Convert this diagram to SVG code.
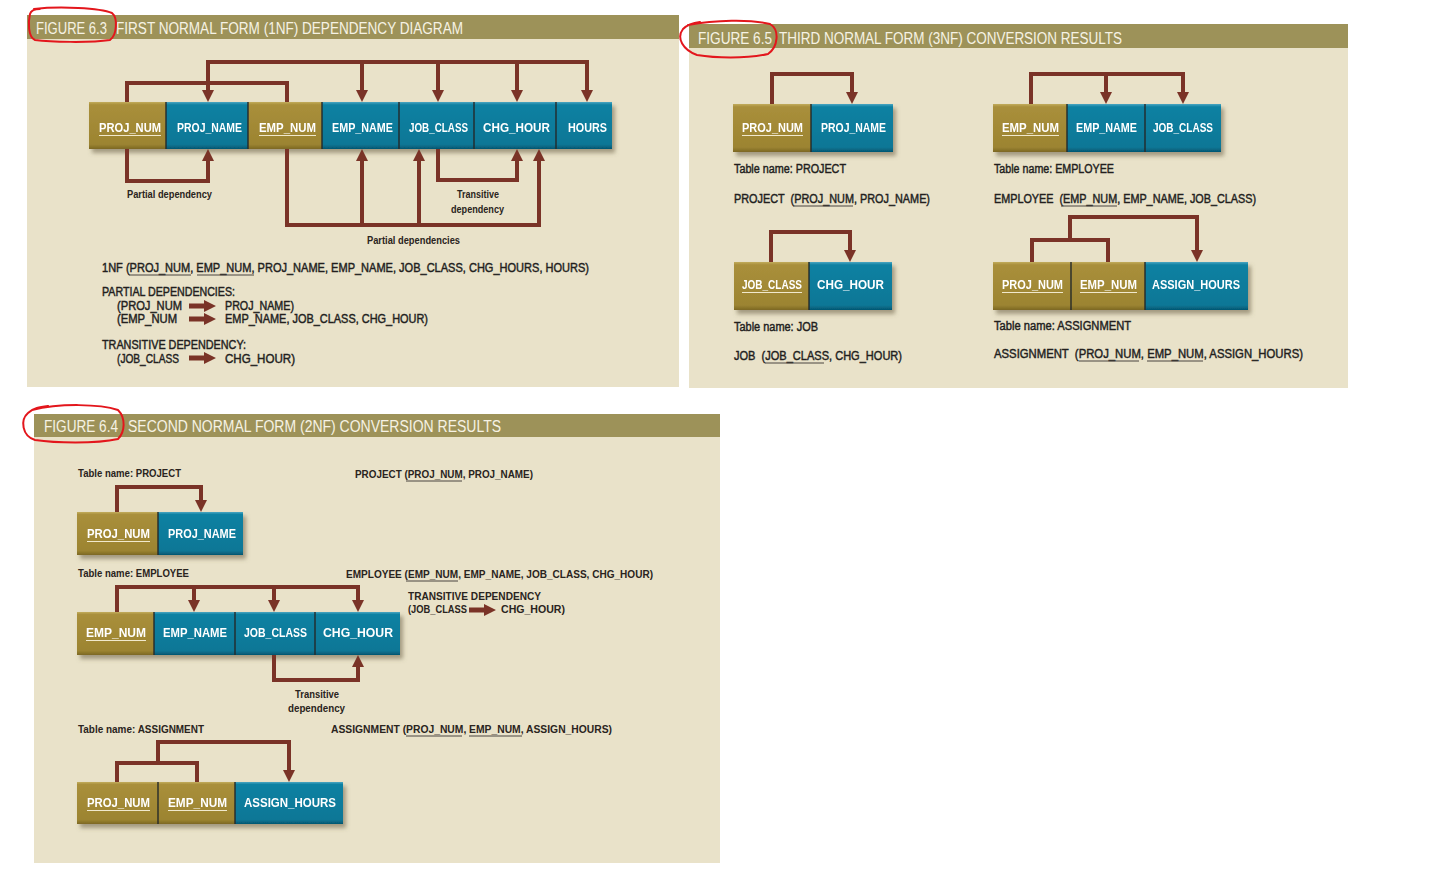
<svg xmlns="http://www.w3.org/2000/svg" xmlns:xlink="http://www.w3.org/1999/xlink" width="1454" height="889" viewBox="0 0 1454 889">
<style>
.panel{fill:#E9E2C9}
.hdr{fill:#9D9259}
.ht{font-family:"Liberation Sans",Arial,sans-serif;font-size:16px;fill:#F6F2E4}
.gold{fill:url(#gGold)}
.blue{fill:url(#gBlue)}
.dv{stroke:#262a2a;stroke-width:1.4}
.ct{font-family:"Liberation Sans",Arial,sans-serif;font-size:13px;font-weight:bold;fill:#FFFFFF}
.cs{font-size:12.5px}
.cu{stroke:#F1E9CC;stroke-width:1}
.conn{fill:none;stroke:#7A3327;stroke-width:4;stroke-linejoin:miter;stroke-linecap:butt}
.tx{font-family:"Liberation Sans",Arial,sans-serif;font-size:12.5px;fill:#231F1E;stroke:#231F1E;stroke-width:0.45}
.lb{font-family:"Liberation Sans",Arial,sans-serif;font-size:11px;font-weight:bold;fill:#2A2420}
.ul{stroke:#4A4540;stroke-width:1}
.fat{fill:#7A3327}
.red{fill:none;stroke:#E3161C;stroke-width:2;stroke-linecap:round}
</style>
<defs>
<linearGradient id="gGold" x1="0" y1="0" x2="0" y2="1">
<stop offset="0" stop-color="#C2AC5C"/>
<stop offset="0.06" stop-color="#A98F3B"/>
<stop offset="0.9" stop-color="#9C8431"/>
<stop offset="1" stop-color="#7C6824"/>
</linearGradient>
<linearGradient id="gBlue" x1="0" y1="0" x2="0" y2="1">
<stop offset="0" stop-color="#4AA6C2"/>
<stop offset="0.06" stop-color="#0F81A2"/>
<stop offset="0.9" stop-color="#0A7796"/>
<stop offset="1" stop-color="#055670"/>
</linearGradient>
<filter id="sh" x="-10%" y="-20%" width="120%" height="150%">
<feDropShadow dx="3" dy="4" stdDeviation="2" flood-color="#6B5F45" flood-opacity="0.55"/>
</filter>
<marker id="ah" markerUnits="userSpaceOnUse" markerWidth="12" markerHeight="12" viewBox="0 0 12 12" refX="3" refY="6" orient="auto-start-reverse">
<path d="M0,0 L12,6 L0,12 z" fill="#7A3327"/>
</marker>
<path id="fatArrow" class="fat" d="M0,-2.5 H15 V-6 L27,0 L15,6 V2.5 H0 Z"/>
</defs>

<rect x="0" y="0" width="1454" height="889" fill="#FFFFFF"/>

<!-- ================= FIGURE 6.3 ================= -->
<g id="fig63">
<rect class="panel" x="27" y="15" width="652" height="372"/>
<rect class="hdr" x="27" y="15" width="652" height="24"/>
<text class="ht" x="36" y="34" textLength="71" lengthAdjust="spacingAndGlyphs">FIGURE 6.3</text>
<text class="ht" x="116" y="34" textLength="347" lengthAdjust="spacingAndGlyphs">FIRST NORMAL FORM (1NF) DEPENDENCY DIAGRAM</text>
<path class="red" d="M34,9 C60,6 100,8 112,13 C118,18 117,35 110,40 C90,43 50,42 35,40 C28,37 28,22 30,14 C31,10 34,9 40,9"/>

<g id="t63" filter="url(#sh)">
<g id="n63-proj_num"><rect class="gold" x="89" y="102" width="77" height="47"/><text class="ct" x="99" y="132" textLength="62" lengthAdjust="spacingAndGlyphs">PROJ_NUM</text><line class="cu" x1="99" y1="135.5" x2="161" y2="135.5"/></g>
<g id="n63-proj_name"><rect class="blue" x="166" y="102" width="82" height="47"/><text class="ct" x="177" y="132" textLength="65" lengthAdjust="spacingAndGlyphs">PROJ_NAME</text></g>
<g id="n63-emp_num"><rect class="gold" x="248" y="102" width="74" height="47"/><text class="ct" x="259" y="132" textLength="57" lengthAdjust="spacingAndGlyphs">EMP_NUM</text><line class="cu" x1="259" y1="135.5" x2="316" y2="135.5"/></g>
<g id="n63-emp_name"><rect class="blue" x="322" y="102" width="77" height="47"/><text class="ct" x="332" y="132" textLength="61" lengthAdjust="spacingAndGlyphs">EMP_NAME</text></g>
<g id="n63-job_class"><rect class="blue" x="399" y="102" width="75" height="47"/><text class="ct" x="409" y="132" textLength="59" lengthAdjust="spacingAndGlyphs">JOB_CLASS</text></g>
<g id="n63-chg_hour"><rect class="blue" x="474" y="102" width="82" height="47"/><text class="ct" x="483" y="132" textLength="67" lengthAdjust="spacingAndGlyphs">CHG_HOUR</text></g>
<g id="n63-hours"><rect class="blue" x="556" y="102" width="56" height="47"/><text class="ct" x="568" y="132" textLength="39" lengthAdjust="spacingAndGlyphs">HOURS</text></g>
<line class="dv" x1="166" y1="102" x2="166" y2="149"/><line class="dv" x1="248" y1="102" x2="248" y2="149"/><line class="dv" x1="322" y1="102" x2="322" y2="149"/><line class="dv" x1="399" y1="102" x2="399" y2="149"/><line class="dv" x1="474" y1="102" x2="474" y2="149"/><line class="dv" x1="556" y1="102" x2="556" y2="149"/>
</g>

<g id="l63">
<text class="lb" x="127" y="198" textLength="85" lengthAdjust="spacingAndGlyphs">Partial dependency</text>
<text class="lb" x="457" y="198" textLength="42" lengthAdjust="spacingAndGlyphs">Transitive</text>
<text class="lb" x="451" y="213" textLength="53" lengthAdjust="spacingAndGlyphs">dependency</text>
<text class="lb" x="367" y="244" textLength="93" lengthAdjust="spacingAndGlyphs">Partial dependencies</text>

<text class="tx" x="102" y="272" textLength="487" lengthAdjust="spacingAndGlyphs">1NF (PROJ_NUM, EMP_NUM, PROJ_NAME, EMP_NAME, JOB_CLASS, CHG_HOURS, HOURS)</text>
<line class="ul" x1="129" y1="275" x2="191" y2="275"/><line class="ul" x1="197" y1="275" x2="254" y2="275"/>
<text class="tx" x="102" y="296" textLength="133" lengthAdjust="spacingAndGlyphs">PARTIAL DEPENDENCIES:</text>
<text class="tx" x="117" y="310" textLength="65" lengthAdjust="spacingAndGlyphs">(PROJ_NUM</text>
<use xlink:href="#fatArrow" x="189" y="306"/>
<text class="tx" x="225" y="310" textLength="69" lengthAdjust="spacingAndGlyphs">PROJ_NAME)</text>
<text class="tx" x="117" y="323" textLength="60" lengthAdjust="spacingAndGlyphs">(EMP_NUM</text>
<use xlink:href="#fatArrow" x="189" y="319"/>
<text class="tx" x="225" y="323" textLength="203" lengthAdjust="spacingAndGlyphs">EMP_NAME, JOB_CLASS, CHG_HOUR)</text>
<text class="tx" x="102" y="349" textLength="144" lengthAdjust="spacingAndGlyphs">TRANSITIVE DEPENDENCY:</text>
<text class="tx" x="117" y="363" textLength="62" lengthAdjust="spacingAndGlyphs">(JOB_CLASS</text>
<use xlink:href="#fatArrow" x="189" y="358"/>
<text class="tx" x="225" y="363" textLength="70" lengthAdjust="spacingAndGlyphs">CHG_HOUR)</text>
</g>
</g>

<!-- ================= FIGURE 6.5 ================= -->
<g id="fig65">
<rect class="panel" x="689" y="24" width="659" height="364"/>
<rect class="hdr" x="689" y="24" width="659" height="24"/>
<text class="ht" x="698" y="44" textLength="74" lengthAdjust="spacingAndGlyphs">FIGURE 6.5</text>
<text class="ht" x="779" y="44" textLength="343" lengthAdjust="spacingAndGlyphs">THIRD NORMAL FORM (3NF) CONVERSION RESULTS</text>
<path class="red" d="M688,25 C715,20 750,19 770,24 C780,30 778,47 768,54 C745,59 715,58 697,55 C683,50 676,38 683,29 C687,25 692,23 700,22"/>

<g id="t65-project" filter="url(#sh)">
<g id="n65-p-proj_num"><rect class="gold" x="733" y="104" width="78" height="48"/><text class="ct" x="742" y="132" textLength="61" lengthAdjust="spacingAndGlyphs">PROJ_NUM</text><line class="cu" x1="742" y1="135.5" x2="803" y2="135.5"/></g>
<g id="n65-p-proj_name"><rect class="blue" x="811" y="104" width="82" height="48"/><text class="ct" x="821" y="132" textLength="65" lengthAdjust="spacingAndGlyphs">PROJ_NAME</text></g>
<line class="dv" x1="811" y1="104" x2="811" y2="152"/>
</g>
<g id="t65-employee" filter="url(#sh)">
<g id="n65-e-emp_num"><rect class="gold" x="993" y="104" width="74" height="48"/><text class="ct" x="1002" y="132" textLength="57" lengthAdjust="spacingAndGlyphs">EMP_NUM</text><line class="cu" x1="1002" y1="135.5" x2="1059" y2="135.5"/></g>
<g id="n65-e-emp_name"><rect class="blue" x="1067" y="104" width="78" height="48"/><text class="ct" x="1076" y="132" textLength="61" lengthAdjust="spacingAndGlyphs">EMP_NAME</text></g>
<g id="n65-e-job_class"><rect class="blue" x="1145" y="104" width="76" height="48"/><text class="ct" x="1153" y="132" textLength="60" lengthAdjust="spacingAndGlyphs">JOB_CLASS</text></g>
<line class="dv" x1="1067" y1="104" x2="1067" y2="152"/><line class="dv" x1="1145" y1="104" x2="1145" y2="152"/>
</g>
<g id="t65-job" filter="url(#sh)">
<g id="n65-j-job_class"><rect class="gold" x="734" y="262" width="75" height="48"/><text class="ct" x="742" y="289" textLength="60" lengthAdjust="spacingAndGlyphs">JOB_CLASS</text><line class="cu" x1="742" y1="292.5" x2="802" y2="292.5"/></g>
<g id="n65-j-chg_hour"><rect class="blue" x="809" y="262" width="83" height="48"/><text class="ct" x="817" y="289" textLength="67" lengthAdjust="spacingAndGlyphs">CHG_HOUR</text></g>
<line class="dv" x1="809" y1="262" x2="809" y2="310"/>
</g>
<g id="t65-assignment" filter="url(#sh)">
<g id="n65-a-proj_num"><rect class="gold" x="993" y="262" width="78" height="48"/><text class="ct" x="1002" y="289" textLength="61" lengthAdjust="spacingAndGlyphs">PROJ_NUM</text><line class="cu" x1="1002" y1="292.5" x2="1063" y2="292.5"/></g>
<g id="n65-a-emp_num"><rect class="gold" x="1071" y="262" width="74" height="48"/><text class="ct" x="1080" y="289" textLength="57" lengthAdjust="spacingAndGlyphs">EMP_NUM</text><line class="cu" x1="1080" y1="292.5" x2="1137" y2="292.5"/></g>
<g id="n65-a-assign_hours"><rect class="blue" x="1145" y="262" width="103" height="48"/><text class="ct" x="1152" y="289" textLength="88" lengthAdjust="spacingAndGlyphs">ASSIGN_HOURS</text></g>
<line class="dv" x1="1071" y1="262" x2="1071" y2="310"/><line class="dv" x1="1145" y1="262" x2="1145" y2="310"/>
</g>

<g id="l65">
<text class="tx" x="734" y="173" textLength="112" lengthAdjust="spacingAndGlyphs">Table name: PROJECT</text>
<text class="tx" x="734" y="203" textLength="196" lengthAdjust="spacingAndGlyphs" xml:space="preserve">PROJECT  (PROJ_NUM, PROJ_NAME)</text>
<line class="ul" x1="793" y1="206" x2="853" y2="206"/>
<text class="tx" x="994" y="173" textLength="120" lengthAdjust="spacingAndGlyphs">Table name: EMPLOYEE</text>
<text class="tx" x="994" y="203" textLength="262" lengthAdjust="spacingAndGlyphs" xml:space="preserve">EMPLOYEE  (EMP_NUM, EMP_NAME, JOB_CLASS)</text>
<line class="ul" x1="1061" y1="206" x2="1117" y2="206"/>
<text class="tx" x="734" y="331" textLength="84" lengthAdjust="spacingAndGlyphs">Table name: JOB</text>
<text class="tx" x="734" y="360" textLength="168" lengthAdjust="spacingAndGlyphs" xml:space="preserve">JOB  (JOB_CLASS, CHG_HOUR)</text>
<line class="ul" x1="765" y1="363" x2="824" y2="363"/>
<text class="tx" x="994" y="330" textLength="137" lengthAdjust="spacingAndGlyphs">Table name: ASSIGNMENT</text>
<text class="tx" x="994" y="358" textLength="309" lengthAdjust="spacingAndGlyphs" xml:space="preserve">ASSIGNMENT  (PROJ_NUM, EMP_NUM, ASSIGN_HOURS)</text>
<line class="ul" x1="1079" y1="361" x2="1139" y2="361"/><line class="ul" x1="1147" y1="361" x2="1203" y2="361"/>
</g>
</g>

<!-- ================= FIGURE 6.4 ================= -->
<g id="fig64">
<rect class="panel" x="34" y="414" width="686" height="449"/>
<rect class="hdr" x="34" y="414" width="686" height="23"/>
<text class="ht" x="44" y="432" textLength="74" lengthAdjust="spacingAndGlyphs">FIGURE 6.4</text>
<text class="ht" x="128" y="432" textLength="373" lengthAdjust="spacingAndGlyphs">SECOND NORMAL FORM (2NF) CONVERSION RESULTS</text>
<path class="red" d="M32,410 C60,403 100,404 118,410 C126,418 125,432 118,439 C95,444 55,443 35,440 C22,436 20,420 28,413 C33,408 40,407 48,406"/>

<g id="t64-project" filter="url(#sh)">
<g id="n64-p-proj_num"><rect class="gold" x="77" y="512" width="81" height="43"/><text class="ct cs" x="87" y="538" textLength="63" lengthAdjust="spacingAndGlyphs">PROJ_NUM</text><line class="cu" x1="87" y1="541.5" x2="150" y2="541.5"/></g>
<g id="n64-p-proj_name"><rect class="blue" x="158" y="512" width="85" height="43"/><text class="ct cs" x="168" y="538" textLength="68" lengthAdjust="spacingAndGlyphs">PROJ_NAME</text></g>
<line class="dv" x1="158" y1="512" x2="158" y2="555"/>
</g>
<g id="t64-employee" filter="url(#sh)">
<g id="n64-e-emp_num"><rect class="gold" x="77" y="612" width="77" height="43"/><text class="ct cs" x="86" y="637" textLength="60" lengthAdjust="spacingAndGlyphs">EMP_NUM</text><line class="cu" x1="86" y1="640.5" x2="146" y2="640.5"/></g>
<g id="n64-e-emp_name"><rect class="blue" x="154" y="612" width="81" height="43"/><text class="ct cs" x="163" y="637" textLength="64" lengthAdjust="spacingAndGlyphs">EMP_NAME</text></g>
<g id="n64-e-job_class"><rect class="blue" x="235" y="612" width="80" height="43"/><text class="ct cs" x="244" y="637" textLength="63" lengthAdjust="spacingAndGlyphs">JOB_CLASS</text></g>
<g id="n64-e-chg_hour"><rect class="blue" x="315" y="612" width="85" height="43"/><text class="ct cs" x="323" y="637" textLength="70" lengthAdjust="spacingAndGlyphs">CHG_HOUR</text></g>
<line class="dv" x1="154" y1="612" x2="154" y2="655"/><line class="dv" x1="235" y1="612" x2="235" y2="655"/><line class="dv" x1="315" y1="612" x2="315" y2="655"/>
</g>
<g id="t64-assignment" filter="url(#sh)">
<g id="n64-a-proj_num"><rect class="gold" x="77" y="782" width="81" height="42"/><text class="ct cs" x="87" y="807" textLength="63" lengthAdjust="spacingAndGlyphs">PROJ_NUM</text><line class="cu" x1="87" y1="810.5" x2="150" y2="810.5"/></g>
<g id="n64-a-emp_num"><rect class="gold" x="158" y="782" width="77" height="42"/><text class="ct cs" x="168" y="807" textLength="59" lengthAdjust="spacingAndGlyphs">EMP_NUM</text><line class="cu" x1="168" y1="810.5" x2="227" y2="810.5"/></g>
<g id="n64-a-assign_hours"><rect class="blue" x="235" y="782" width="108" height="42"/><text class="ct cs" x="244" y="807" textLength="92" lengthAdjust="spacingAndGlyphs">ASSIGN_HOURS</text></g>
<line class="dv" x1="158" y1="782" x2="158" y2="824"/><line class="dv" x1="235" y1="782" x2="235" y2="824"/>
</g>

<g id="l64">
<text class="lb" x="78" y="477" textLength="103" lengthAdjust="spacingAndGlyphs">Table name: PROJECT</text>
<text class="lb" x="355" y="478" textLength="178" lengthAdjust="spacingAndGlyphs">PROJECT (PROJ_NUM, PROJ_NAME)</text>
<line class="ul" x1="406" y1="481" x2="462" y2="481"/>
<text class="lb" x="78" y="577" textLength="111" lengthAdjust="spacingAndGlyphs">Table name: EMPLOYEE</text>
<text class="lb" x="346" y="578" textLength="307" lengthAdjust="spacingAndGlyphs">EMPLOYEE (EMP_NUM, EMP_NAME, JOB_CLASS, CHG_HOUR)</text>
<line class="ul" x1="406" y1="581" x2="458" y2="581"/>
<text class="lb" x="408" y="600" textLength="133" lengthAdjust="spacingAndGlyphs">TRANSITIVE DEPENDENCY</text>
<text class="lb" x="408" y="613" textLength="59" lengthAdjust="spacingAndGlyphs">(JOB_CLASS</text>
<use xlink:href="#fatArrow" x="469" y="610"/>
<text class="lb" x="501" y="613" textLength="64" lengthAdjust="spacingAndGlyphs">CHG_HOUR)</text>
<text class="lb" x="295" y="698" textLength="44" lengthAdjust="spacingAndGlyphs">Transitive</text>
<text class="lb" x="288" y="712" textLength="57" lengthAdjust="spacingAndGlyphs">dependency</text>
<text class="lb" x="78" y="733" textLength="126" lengthAdjust="spacingAndGlyphs">Table name: ASSIGNMENT</text>
<text class="lb" x="331" y="733" textLength="281" lengthAdjust="spacingAndGlyphs">ASSIGNMENT (PROJ_NUM, EMP_NUM, ASSIGN_HOURS)</text>
<line class="ul" x1="406" y1="736" x2="462" y2="736"/><line class="ul" x1="469" y1="736" x2="522" y2="736"/>
</g>
</g>

<!-- ================= CONNECTORS ================= -->
<g id="connectors" class="conn">
<path d="M208,93 V62 H587 V93" marker-start="url(#ah)" marker-end="url(#ah)"/>
<path d="M362,62 V93" marker-end="url(#ah)"/>
<path d="M438,62 V93" marker-end="url(#ah)"/>
<path d="M517,62 V93" marker-end="url(#ah)"/>
<path d="M127,102 V83 H287 V102"/>
<path d="M127,149 V181 H208 V158" marker-end="url(#ah)"/>
<path d="M287,149 V225 H539 V158" marker-end="url(#ah)"/>
<path d="M362,225 V158" marker-end="url(#ah)"/>
<path d="M419,225 V158" marker-end="url(#ah)"/>
<path d="M438,149 V180 H517 V158" marker-end="url(#ah)"/>

<path d="M772,104 V74 H852 V95" marker-end="url(#ah)"/>
<path d="M1031,104 V74 H1183 V95" marker-end="url(#ah)"/>
<path d="M1106,74 V95" marker-end="url(#ah)"/>
<path d="M771,262 V232 H850 V253" marker-end="url(#ah)"/>
<path d="M1032,262 V240 H1108 V262"/>
<path d="M1070,240 V217 H1197 V253" marker-end="url(#ah)"/>

<path d="M117,512 V487 H201 V503" marker-end="url(#ah)"/>
<path d="M117,612 V587 H358 V603" marker-end="url(#ah)"/>
<path d="M194,587 V603" marker-end="url(#ah)"/>
<path d="M274,587 V603" marker-end="url(#ah)"/>
<path d="M274,655 V680 H358 V664" marker-end="url(#ah)"/>
<path d="M117,782 V763 H197 V782"/>
<path d="M158,763 V742 H289 V773" marker-end="url(#ah)"/>
</g>
</svg>
